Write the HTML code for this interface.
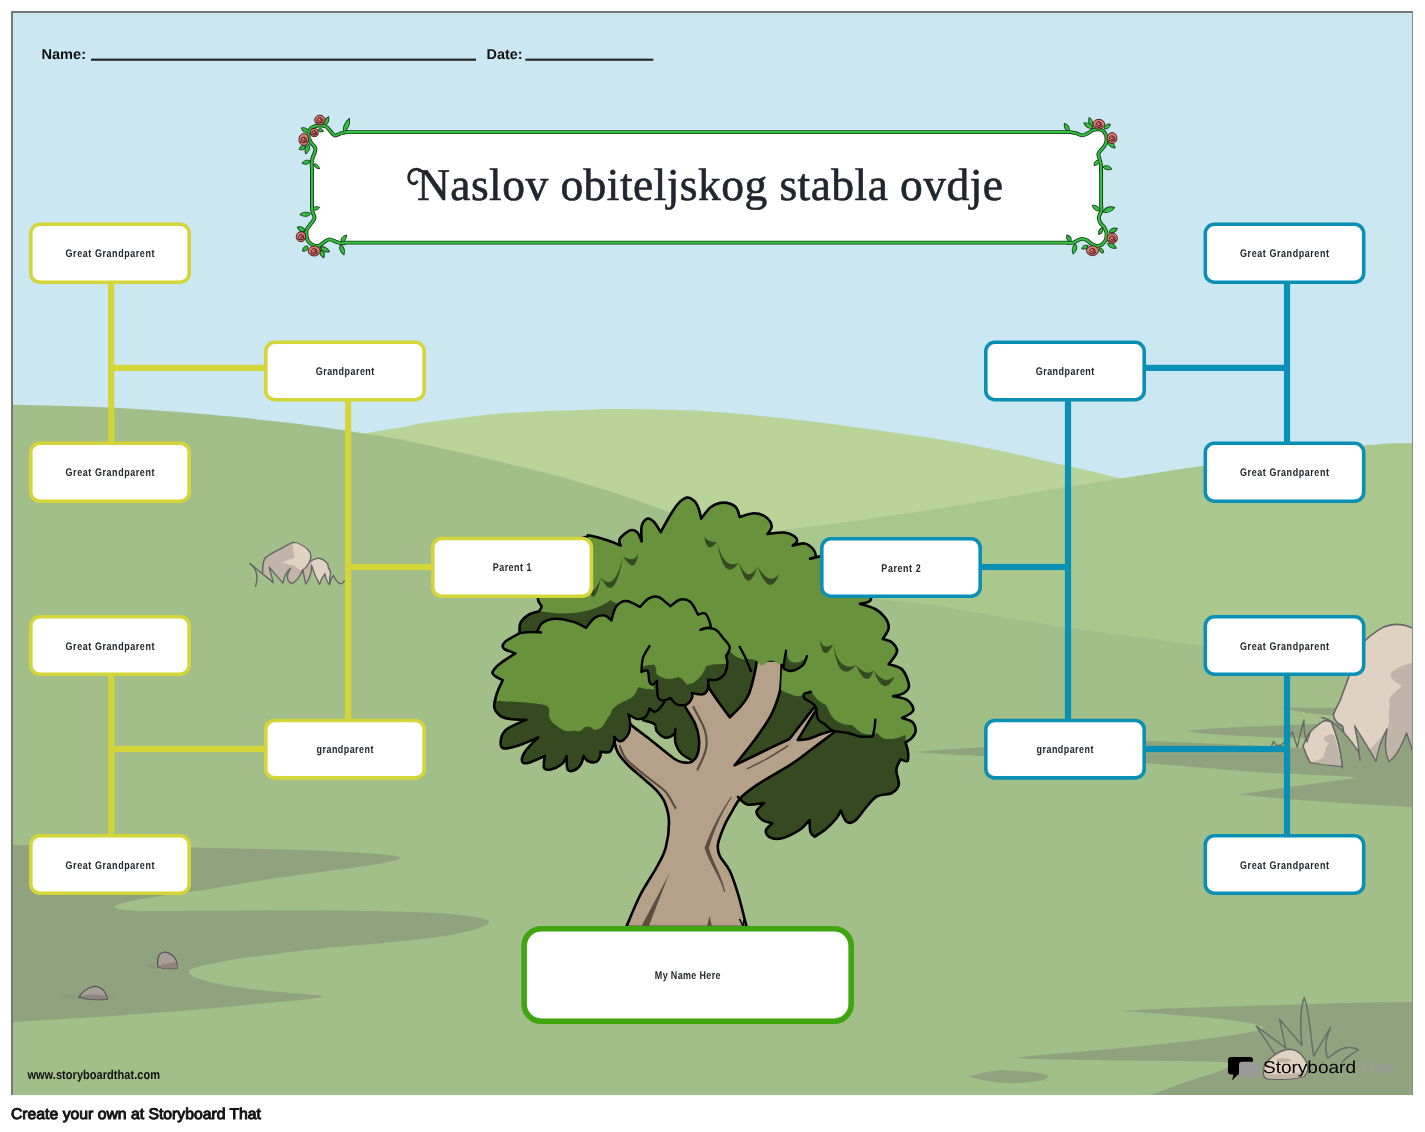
<!DOCTYPE html>
<html><head><meta charset="utf-8"><title>Family Tree</title>
<style>
html,body{margin:0;padding:0;background:#fff;}
body{width:1425px;height:1132px;overflow:hidden;font-family:"Liberation Sans",sans-serif;}
svg{display:block;position:absolute;left:0;top:0;}
text{font-family:"Liberation Sans",sans-serif;text-rendering:geometricPrecision;}
.lbl{font-weight:bold;font-size:11.2px;fill:#23252e;}
.ser{font-family:"Liberation Serif",serif;}
</style></head><body>
<svg width="1425" height="1132" viewBox="0 0 1425 1132" style="will-change:transform;opacity:0.9999">
<defs><clipPath id="fr"><rect x="11" y="11" width="1401.5" height="1084"/></clipPath></defs><g clip-path="url(#fr)">
<rect x="11" y="11" width="1402" height="1084" fill="#cbe7f2"/>
<path d="M340 440C344 438.9 352 436.1 364 433.7C376 431.3 402.7 427.2 412 425.5C421.3 423.8 405.2 425.6 420 423.6C434.8 421.6 473.8 415.9 501 413.6C528.2 411.3 562.7 410.8 583 410C603.3 409.2 602.7 408.9 623 409.1C643.3 409.3 677.8 409.6 705 411.2C732.2 412.8 758.8 415.5 786 418.5C813.2 421.5 837.8 424.8 868 429C898.2 433.2 934 437.9 967 444C1000 450.1 1040.4 459.9 1066 465.6C1091.6 471.4 1108.4 475.4 1120.7 478.5C1133 481.6 1136.8 483.1 1140 484 L1140 640 L340 640Z" fill="#b9d398"/>
<path d="M1413 443.4C1409.2 443.4 1396.7 443.2 1390 443.4C1383.3 443.6 1388 443.4 1373 444.8C1358 446.2 1328 448.5 1300 452C1272 455.5 1234.7 461.2 1204.8 465.6C1174.9 470 1143.8 474.9 1120.7 478.5C1097.6 482.1 1091.6 482.8 1066 487C1040.4 491.2 1000 498.7 967 504C934 509.3 900.8 514.4 868 519C835.2 523.6 798 528 770 531.5C742 535 711.7 538.6 700 540 L700 700 L1413 700Z" fill="#aac88d"/>
<path d="M11 404.6C11.3 404.6 -3.3 404.2 13 404.7C29.3 405.2 76.8 405.8 109 407.4C141.2 409 175 411.5 206 414.2C237 416.9 268.9 420.4 295 423.6C321.1 426.8 341.7 430 362.5 433.3C383.3 436.6 391.4 437.5 420 443.6C448.6 449.7 502.8 462.2 534 470C565.2 477.8 584.5 483.5 607 490.5C629.5 497.5 650.2 505.1 669 512C687.8 518.9 701.5 524 720 532C738.5 540 761.7 550.8 780 560C798.3 569.2 818.3 581.3 830 587C841.7 592.7 843.3 592.1 850 594C856.7 595.9 856.4 596.7 870 598.5C883.6 600.3 899.4 600.2 931.6 605C963.8 609.8 1019.1 620.4 1063 627C1106.8 633.6 1155.2 639.4 1194.7 644.6C1234.2 649.8 1263.6 653.4 1300 658C1336.4 662.6 1394.2 669.7 1413 672 L1413 1095 L11 1095Z" fill="#a2be89"/>
<path d="M12 845 C100 846 250 848 328 851 C370 853 400 855 400 858 C400 861 370 866 328 871 C280 877 240 884 219 887.5 C170 895 125 900 115 906 C112 909 125 911 146 911 C220 911 300 910 328 910.5 C380 911 420 912 438 913 C470 915 490 919 489 922.5 C488 927 465 933 438 937 C400 942 360 945 328 947.7 C280 953 240 958 219 962.3 C198 966 188 969 189 972 C190 977 205 981 219 984 C240 988 260 990 274 991.5 C300 994 323 995 323 996.5 C323 998 290 1001 255 1004 C220 1008 180 1011 146 1013.4 C100 1017 50 1020 12 1022Z" fill="#90a37e"/>
<path d="M1413 722 C1380 722 1340 723 1306 724.5 C1260 726 1200 728 1189 731 C1195 734 1250 737 1300 738 C1315 739 1335 741 1335 744 C1330 748 1310 748.5 1300 748 C1280 747 1220 743.5 1147 741 C1080 742 960 748 915 752 C960 756 1080 760 1144 763 C1200 767 1237 771 1270 773 C1310 775 1350 776 1357 777.5 C1340 781 1290 786 1239 794.5 C1290 800 1350 804 1413 807Z" fill="#90a37e"/>
<path d="M1413 1002 C1380 1002 1340 1003 1314 1004 C1250 1006 1160 1008 1122 1011 C1150 1013 1190 1016 1212 1018 C1235 1020 1264 1025 1264 1028 C1262 1031 1235 1035 1212 1038 C1170 1044 1110 1049 1076 1052 C1050 1054 1025 1056 1016 1058 C1040 1060 1080 1060 1110 1060.4 C1150 1061 1200 1061 1222 1062 C1240 1064 1225 1070 1195 1079 C1180 1084 1165 1089 1151 1095 L1413 1095Z" fill="#90a37e"/>
<path d="M969 1076.7 C980 1073 992 1071 999.6 1070 C1015 1071 1040 1072 1047 1075 C1052 1079 1040 1082 1020 1083 C1000 1084 985 1081 969 1076.7Z" fill="#90a37e"/>
<path d="M302.7 570 C304 567 305.5 565 307.4 563.7 C310 561 313 559.5 315.8 558.6 C318 558 320 558.3 321.7 559 C324 560 326 561.5 327.6 563.7 C328.2 565 328.3 566.5 328.4 567.9 C329.5 569 330.2 570.5 330.5 572.1 C330.6 574 330.3 576 329.7 578 L330 588 L300 588Z" fill="#dfd2c2" stroke="#666" stroke-width="1.5" stroke-linejoin="round"/>
<path d="M302.7 570 C304 567 305.5 565 307.4 563.7 C309 562.5 310.5 561.5 311.6 561 L313 570 L316 588 L300 588Z" fill="#c0b5a8"/>
<path d="M262.7 571 C262.5 568 262.7 565.5 263.2 563.7 C263.7 561 264.3 559.2 265.3 557.8 C269 555 273.5 552.5 277.9 550.2 C283 547.5 288 544.5 292.2 542.6 C294.5 542 297 542.8 299 543.9 C302 545.3 305 547.3 307.4 549.4 C308.8 550.7 309.8 552 310.3 553.6 C310.8 555.2 311 557 310.7 558.6 C310 561 308.8 563.5 307.4 565.4 C306 567.3 304.3 568.8 302.7 570 L304 588 L262 588Z" fill="#c0b5a8" stroke="#666" stroke-width="1.5" stroke-linejoin="round"/>
<path d="M293 544 C295 543 297 543.2 299 544.3 C302 545.7 305 547.5 307 549.8 C308.5 551 309.3 552.5 309.7 554 C310 555.5 310 557 309.8 558.5 C309 561 308 563.3 306.7 565 C305.5 566.8 304 568.2 302.5 569.3 C301 569.8 300 569.8 299 569.6 C297.5 568 296 566.5 294.7 565.4 C290 565 286 564 282.1 562.8 C284 561.5 286 560.5 288 560 C290.5 559.2 293 558.3 294.7 557 C294 556 293.7 554.8 293.5 553.6 C293 550.5 293 547 293 544Z" fill="#dfd2c2"/>
<path d="M250.1 563.7 L273.3 582.6 L269.1 567.1 L282.9 583.1 C284 577 287 571 290.5 568.3 C286.5 574 286 581 291.4 583.5 C296 582.5 300 576 302.7 570 L305.7 583.9 C309.5 579 311.5 572 311.6 565.4 C313.5 572 316.5 579 319.6 584.3 C321 580 323 576 325.1 573.8 C325.5 578 327 582 329.7 584.7 C330.5 581 331.5 577.5 333.5 575.5 C335 579 338 583.5 341.1 583.9 C342.5 583.5 343.6 582.3 344.4 580.9 L346 592 L250 592Z" fill="#a2be89"/>
<path d="M250.1 563.7 L273.3 582.6 L269.1 567.1 L282.9 583.1 C284 577 287 571 290.5 568.3 C286.5 574 286 581 291.4 583.5 C296 582.5 300 576 302.7 570 L305.7 583.9 C309.5 579 311.5 572 311.6 565.4 C313.5 572 316.5 579 319.6 584.3 C321 580 323 576 325.1 573.8 C325.5 578 327 582 329.7 584.7 C330.5 581 331.5 577.5 333.5 575.5 C335 579 338 583.5 341.1 583.9 C342.5 583.5 343.6 582.3 344.4 580.9" fill="none" stroke="#666" stroke-width="1.4" stroke-linejoin="round" stroke-linecap="round"/>
<path d="M250.1 563.7 C256 568 258.5 576 255.6 586.4" fill="none" stroke="#666" stroke-width="1.4" stroke-linecap="round"/>
<path d="M1281 708 C1300 707.5 1320 707.5 1340 708 L1340 716 C1320 715 1300 712 1281 708Z" fill="#90a37e"/>
<path d="M1422 634 C1414 628 1404 624 1395.4 624.4 C1390 625 1386 626 1383 627.4 C1376 631 1370 636 1365 640.6 C1360 650 1354 664 1348.6 677.2 C1346 685 1343 692 1340.5 699.6 C1338 705 1335 710 1333.4 714.8 C1334 720 1338 724 1342.5 726 L1350 765 L1422 765Z" fill="#dfd2c2" stroke="#666" stroke-width="1.6" stroke-linejoin="round"/>
<path d="M1413 663 C1405 664 1395 668 1391 673 C1388 678 1396 682 1402 686 C1398 690 1390 695 1389 700 C1391 706 1388 712 1389 718 C1390 726 1385 734 1373 746 L1360 760 L1413 762Z" fill="#c0b5a8"/>
<path d="M1303 746.3 C1305 741 1307 736 1310 732 C1315 727 1320 723 1324.3 720.9 C1327 720.5 1329 721 1331.4 722 C1337 735 1341 752 1342.5 766.6 C1330 765 1320 764 1310 762.5 C1307 757 1305 752 1303 746.3Z" fill="#dfd2c2" stroke="#666" stroke-width="1.6" stroke-linejoin="round"/>
<path d="M1326 736 C1322 738 1325 742 1329 743 C1326 747 1324 752 1324 756 C1320 760 1314 762 1311 762 C1320 764 1332 765 1341.5 766 C1340 755 1337 744 1334 735 C1331 734 1328 735 1326 736Z" fill="#c0b5a8"/>
<path d="M1271.8 745.5 L1273.5 741.3 L1276.4 745.5 L1280.6 745.5 C1285 742 1289 737 1292.3 732.1 L1297.4 747.3 C1299 738 1302 727 1304 720 C1303.5 728 1305 737 1307 742 L1310 733" fill="none" stroke="#666" stroke-width="1.3" stroke-linejoin="round" stroke-linecap="round"/>
<path d="M1331.4 722 C1337 726 1345 733 1352 742 C1356 748 1360 755 1360 760 C1359 748 1357 736 1354.7 726 C1362 738 1370 750 1376 761.5 C1378 750 1382 738 1387 729 C1385 740 1384 752 1389 761.5 C1396 757 1402 745 1406.5 733 L1413 752 L1413 772 L1343 772 C1342 752 1337 735 1331.4 722Z" fill="#90a37e"/>
<path d="M1342.5 768 C1341 752 1337 735 1331.4 722 C1329 720 1326 718.5 1322 717.5 C1328 719 1333 722 1337 726 C1345 733 1352 742 1358 751 C1360 755 1360 758 1360 760 C1359 748 1357 736 1354.7 726 C1362 738 1370 750 1376 761.5 C1378 750 1382 738 1387 729 C1385 740 1384 752 1389 761.5 C1396 757 1402 745 1406.5 733 L1413 752" fill="none" stroke="#666" stroke-width="1.4" stroke-linejoin="round" stroke-linecap="round"/>
<path d="M1275.3 1054.5 L1256.3 1026 L1285.8 1048.2 L1279.5 1019.2 L1302.1 1045.5 C1300 1030 1300 1008 1304.2 997.6 C1309 1008 1311 1040 1313.7 1056 L1330.5 1027.6 C1326 1038 1324 1050 1327.9 1058.2 C1333 1054 1338 1050 1343.7 1048.2 C1349 1047 1355 1048 1358.4 1049.7 C1355 1052 1352 1054 1350 1055.5 C1346 1058 1343 1061 1341.6 1062.9" fill="none" stroke="#6a6f6a" stroke-width="1.5" stroke-linejoin="round" stroke-linecap="round"/>
<path d="M1263.7 1075.5 C1263 1071 1263.5 1068 1264.7 1065 C1267 1061 1271 1057.5 1275.3 1054.5 C1280 1051.5 1285 1049.5 1289 1049.2 C1292 1049.3 1295 1050 1297.4 1051.3 C1300 1053 1302 1055 1303.7 1057.6 C1306 1060.5 1307.5 1064 1307.9 1067.1 C1307.8 1071 1306 1074.5 1303.7 1076.6 C1297 1078.5 1290 1079.2 1282.6 1079.2 C1277 1079.3 1271 1079.2 1266.8 1078.7 C1265 1078 1264 1077 1263.7 1075.5Z" fill="#dfd2c2" stroke="#666" stroke-width="1.5"/>
<ellipse cx="1283.7" cy="1060.3" rx="7.4" ry="2.1" fill="#c0b5a8"/>
<path d="M1265 1073 C1275 1075 1292 1075 1306 1071 C1305.5 1074 1304.8 1075.5 1303.5 1076.3 C1297 1078.2 1290 1078.8 1282.6 1078.8 C1277 1078.9 1271 1078.8 1267 1078.3 C1265.5 1077.5 1264.8 1075.5 1265 1073Z" fill="#c0b5a8"/>
<ellipse cx="162" cy="966" rx="16" ry="3" fill="#8b9d7a"/>
<path d="M158 967 C157 961 158 956 160.5 953.5 C164 951 168 952 172 955 C176 958 177.5 963 177 968 C171 969 164 969 158 967Z" fill="#a69e97" stroke="#555" stroke-width="1.3"/>
<path d="M159 967 C163 962 170 964 176 962 L177 968 C171 969 164 969 159 967Z" fill="#8e857f"/>
<ellipse cx="88" cy="996.5" rx="28" ry="3.2" fill="#8b9d7a"/>
<path d="M79 997 C82 992 88 988 93 986.5 C97 986 101 987.5 104 991 C106 994 107 997 107.5 999 C98 1000 88 999.5 79 997Z" fill="#a69e97" stroke="#555" stroke-width="1.3"/>
<path d="M81 997 C88 993 98 995 106 996 L107 999 C98 1000 88 999.5 81 997Z" fill="#8e857f"/>
<path d="M701.2 518.6C702.8 516.7 707.2 509.7 711 507C714.8 504.3 719.6 502.6 723.7 502.6C727.8 502.6 732.8 504.4 735.5 506.8C738.2 509.2 739 515.3 739.7 517C742.1 516.4 749.6 513.2 754 513.2C758.4 513.2 762.8 514.8 765.8 517C768.8 519.2 771.4 523.4 771.7 526.2C772 529 768.2 532.7 767.5 534C770.3 533.8 779.8 532.1 784.3 532.5C788.8 532.9 792.3 534.8 794.4 536.3C796.5 537.8 797.3 539.8 797 541.4C796.7 543 793.4 544.9 792.7 545.6C794.7 545.2 801.1 542.9 804.5 543.5C807.9 544.1 811.2 546.8 813 549C814.8 551.2 816 554.9 815.5 556.5C815 558.1 810.9 558.3 810 558.7C814.2 558.2 827 553.3 835 556C843 558.7 852 567.9 858 575C864 582.1 870.7 593.8 871 598.6C871.3 603.4 861.8 602.9 860 603.7C862.5 604.6 871.1 606.6 875.3 609C879.5 611.4 883.2 614.8 885.4 618C887.6 621.2 889.1 624.5 888.7 628C888.3 631.5 883.8 637.2 882.8 639C884.3 639.6 889.6 640.4 892 642.5C894.4 644.6 897.5 648.1 897 651.7C896.5 655.3 890.1 662.2 888.7 664.3C891 665.2 898.8 666 902.2 669.5C905.6 673 908.7 681.4 909 685.3C909.3 689.2 906.7 691.2 904 693C901.3 694.8 894.8 695.7 893 696.2C895.4 696.8 903.9 697.6 907.3 700C910.7 702.4 914.1 707.5 913.2 710.5C912.4 713.5 904 716.8 902.2 718C903.9 718.7 910 719.9 912.3 722C914.5 724.1 915.7 728.1 915.7 730.7C915.7 733.3 914 735.5 912.3 737.5C910.6 739.5 906.7 741.7 905.6 742.5C906 744.1 907.7 748.9 908 752C908.3 755.1 908.5 759.8 907.3 761C906 762.2 901.6 759.7 900.5 759.4C899.8 761.1 896.6 765.3 896.3 769.5C896 773.7 899.5 780.7 898.8 784.6C898.1 788.5 895.6 791 892 793C888.4 795 881.2 794.1 877 796.4C872.8 798.6 870.5 802.4 866.8 806.5C863.1 810.6 858.4 818.3 855 820.8C851.6 823.3 849 823.4 846.6 821.7C844.2 820 841.7 812.5 840.7 810.7C840 812 839 815.2 836.5 818.3C834 821.3 829.6 825.9 826 829C822.4 832.1 816.5 835.5 814.6 836.8C813.9 836 811.2 834.6 810.4 831.8C809.6 829 809.7 822 809.6 820C807.9 821.7 804.3 826.9 799.5 830C794.7 833.1 786.1 837.4 781 838.5C775.9 839.6 771.5 838.2 769 836.8C766.5 835.4 765.4 832.2 766 830C766.6 827.8 771.4 824.5 772.5 823.4C770.8 822.8 765.1 822 762.4 820C759.7 818 756.2 814.4 756.5 811.6C756.8 808.8 762.8 804.4 764 803C761.2 803.2 751.6 805.5 747.3 804.5C743 803.5 739.5 798.2 738 797C735 792.5 723 774.5 720 770C716.2 767.8 700.8 759.2 697 757C696.1 757.5 692.4 759.5 691.5 760C689.9 759 684.3 756.7 681.6 753.8C678.9 750.9 676.4 746.7 675.4 742.6C674.4 738.5 675.4 731.3 675.4 729C675.2 729.8 675.9 732.5 674.2 734C672.6 735.5 668.4 738.1 665.5 737.7C662.6 737.3 658.8 733.8 656.9 731.5C655 729.2 656.7 725.9 654.4 724C652.1 722.1 645.1 721 643.3 720.4C642.2 720.2 639.5 720 637 719C634.5 718 629.8 715 628.4 714.2C628.7 715.5 629.9 718.9 630 722C630.1 725.1 630.1 729.7 629 732.7C627.9 735.7 625.2 738.6 623.5 740C621.8 741.4 620.5 741.4 619 741C617.5 740.6 615.4 738.1 614.7 737.5C614.6 738.4 614.7 740.6 613.9 743C613.1 745.4 612 750.3 609.7 751.8C607.5 753.3 602 751.8 600.4 751.8C600.4 752.5 601.1 754.3 600.4 756C599.7 757.7 598.3 761.1 596.2 761.9C594.1 762.7 589.9 762 587.8 761C585.7 760 584.3 756.8 583.6 756C583.2 757.3 582.5 761.6 581 764C579.5 766.4 576.5 769.4 574.3 770.3C572.1 771.2 568.9 771.9 567.6 769.5C566.3 767.1 566.9 758.2 566.7 756C565.9 757.3 564.7 761.8 562 764C559.3 766.2 553.7 768.9 550.7 769.5C547.7 770.1 545 770 544 767.8C543 765.5 544.7 758 544.8 756C542 757.2 531.8 762.2 528 763C524.2 763.8 522.4 763 522 761C521.6 759 522.8 754.9 525.5 751C528.2 747.1 535.9 739.8 538 737.5C535 738.8 525.7 743.2 520 745C514.3 746.8 506.8 749.4 503.6 748.4C500.4 747.4 500.4 742.2 501 739C501.6 735.8 502.8 732.2 507 729C511.2 725.8 523.1 721.3 526.3 719.8C523.6 719.7 514.4 719.7 510 719C505.6 718.3 502.6 717.6 500 715.6C497.4 713.6 494.8 710.9 494.3 707.2C493.8 703.6 495.4 698.2 496.8 693.7C498.2 689.2 501.7 682.5 502.7 680.2C501.4 679.5 496.7 677.4 495 676C493.3 674.6 491.7 674 492.6 671.9C493.5 669.8 496.4 666.6 500.2 663.5C504 660.4 512.9 655.1 515.4 653.4C513.4 652.5 505.3 650.3 503.6 648.3C501.9 646.3 502.6 644.1 505.3 641.6C508 639.1 517.2 634.6 519.6 633.2C519.7 631.5 518.9 626.1 520.4 623C521.9 619.9 525.7 616.6 528.8 614.6C531.9 612.6 537.3 611.8 539 611.3C539.4 610.4 541.7 608.5 541.5 606.2C541.3 604 537.4 603.8 538 597.8C538.6 591.8 540.5 578.8 545 570C549.5 561.2 558.2 550.5 565 545C571.8 539.5 581.9 538.6 586 537C590.1 535.4 585.8 534.9 589.5 535.5C593.2 536.1 602.8 538.8 608 540.5C613.2 542.2 618.5 544.8 620.6 545.6C620.5 544.5 618.2 541.3 619.8 538.8C621.3 536.3 627 531.5 629.9 530.4C632.8 529.3 635 530.2 637 532C639 533.8 640.9 539.8 641.7 541.4C641.7 538.9 640.7 530 641.7 526.2C642.7 522.4 645.6 519.3 647.6 518.6C649.6 517.9 651.8 519.8 654 522C656.2 524.2 659.6 530.4 660.7 532.1C662.1 529.6 666.4 521.6 669.2 517C672 512.4 674.7 507.5 677.6 504.3C680.5 501.1 684 498.2 686.8 497.6C689.6 497.1 692.4 499.2 694.4 501C696.4 502.8 697.5 505.6 698.6 508.5C699.7 511.4 700.8 516.9 701.2 518.6Z" fill="#354a20"/>
<path d="M626.2 927C628.6 921.6 635.3 904.7 640.5 894.5C645.7 884.3 653.2 873.9 657.4 866C661.6 858.1 663.9 854.7 665.8 847.4C667.7 840.1 669.1 829.4 669 822C668.9 814.6 667 808.2 665 803C663 797.8 660.3 794.8 657 791C653.7 787.2 649.5 784 645 780C640.5 776 634.2 771 630 767C625.8 763 622.3 759.2 620 756C617.7 752.8 617 751.2 616 748C615 744.8 614.2 741 614.2 737C614.2 733 615.7 726.2 616 724C618 722.7 626 717.3 628 716C628.4 717.3 626.7 720.2 630.3 724C633.9 727.8 642.2 733.2 649.5 739C656.8 744.8 668.5 754.8 674.2 758.7C680 762.6 681.1 761.9 684 762.4C686.9 762.9 689.2 763.2 691.5 761.8C693.8 760.4 696.5 757.6 697.7 753.8C699 750 699.4 744 699 739C698.6 734 697.3 729 695.2 724C693.1 719 688.2 712.1 686.6 709.2C685 706.3 685.5 707.2 685.3 706.8C685.4 705 685.9 697.8 686 696C688.3 694.3 697.7 687.7 700 686C701.3 685.8 706.7 685.2 708 685C708.3 685.8 708 686.3 710 689.5C712 692.7 716.7 699.4 720 704C723.3 708.6 728.2 715.1 729.8 717.3C731.7 715.4 737.8 709.9 741 706C744.2 702.1 746.7 699.1 749 693.7C751.3 688.3 753.3 679 754.6 673.4C755.9 667.8 756.6 662.2 757 660C761.1 660.2 777.7 660.8 781.8 661C781.7 664.2 781.4 674.5 781 680C780.6 685.5 781 687.8 779.3 693.7C777.6 699.6 775 707.8 770.8 715.6C766.6 723.5 760 732.5 754 740.8C748 749.1 737.8 761.2 734.6 765.3C739.2 763.1 752.9 756.4 762 752C771.1 747.6 784.8 741.2 789.4 739C791.5 736.3 797.9 728.2 802 723C806.1 717.8 811.4 710.2 813.8 708C816.2 705.8 816 709.2 816.5 709.5C815.1 711.8 811.1 717.9 808 723C804.9 728.1 799.5 737.2 797.8 740C799.5 739.8 804.1 740 808 739C811.9 738 817.2 735.4 821.4 734C825.6 732.6 830.9 731 833 730.7C835.1 730.5 833.8 732.2 834 732.5C830.3 735.2 819.2 743.7 812 749C804.8 754.3 800.1 758.5 791 764.4C781.9 770.3 765.8 779 757.4 784.6C749 790.2 744.7 793.5 740.5 798C736.3 802.5 734.6 807.1 732 811.6C729.4 816.1 727 819.6 724.7 825C722.4 830.4 718.8 838.9 718 844C717.2 849.1 717.7 851.3 719.7 855.8C721.7 860.3 726.7 864.5 729.8 871C732.9 877.5 735.4 885.2 738.2 894.5C741 903.8 745.2 921.6 746.6 927C726.5 927 646.3 927 626.2 927Z" fill="#b5a08a" stroke="#000" stroke-width="2.6" stroke-linejoin="round"/>
<path d="M619.8 746C620.9 748.2 621.7 754.1 626.5 759.4C631.3 764.7 641.9 772.7 648.4 778C654.9 783.3 661.1 786.9 665.3 791.4C669.5 795.9 672 802 673.7 804.8C675.4 807.6 675.1 807.5 675.4 808" fill="none" stroke="#5c4d40" stroke-width="2.2" stroke-linecap="round" stroke-linejoin="round" />
<path d="M693.4 707C695.3 711 702.9 723.7 705 730.7C707.1 737.7 707.2 742.5 706 749C704.8 755.5 699 766.1 697.6 769.5" fill="none" stroke="#5c4d40" stroke-width="2.2" stroke-linecap="round" stroke-linejoin="round" />
<path d="M747.3 768.6C750.4 767.1 759.1 763.2 765.8 759.4C772.5 755.6 784.1 748.2 787.7 746" fill="none" stroke="#5c4d40" stroke-width="1.6" stroke-linecap="round" stroke-linejoin="round" />
<path d="M731.5 797 C722 810 712 828 705 848 C709 862 720 876 724.7 892 C722 876 712 862 708.5 848 C714 828 723 810 731.5 797Z" fill="#5c4d40" stroke="#5c4d40" stroke-width="0.8"/>
<path d="M669.5 873 C660 892 650 910 641 927 L648.5 927 C655 910 662 892 669.5 873Z" fill="#5c4d40"/>
<path d="M709.6 916 L706.8 927 L712 927Z" fill="#5c4d40"/>
<path d="M739.5 919 L743 926 L744 920" fill="none" stroke="#000" stroke-width="1.5"/>
<path d="M701.2 518.6C702.8 516.7 707.2 509.7 711 507C714.8 504.3 719.6 502.6 723.7 502.6C727.8 502.6 732.8 504.4 735.5 506.8C738.2 509.2 739 515.3 739.7 517C742.1 516.4 749.6 513.2 754 513.2C758.4 513.2 762.8 514.8 765.8 517C768.8 519.2 771.4 523.4 771.7 526.2C772 529 768.2 532.7 767.5 534C770.3 533.8 779.8 532.1 784.3 532.5C788.8 532.9 792.3 534.8 794.4 536.3C796.5 537.8 797.3 539.8 797 541.4C796.7 543 793.4 544.9 792.7 545.6C794.7 545.2 801.1 542.9 804.5 543.5C807.9 544.1 811.2 546.8 813 549C814.8 551.2 816 554.9 815.5 556.5C815 558.1 810.9 558.3 810 558.7C814.2 558.2 827 553.3 835 556C843 558.7 852 567.9 858 575C864 582.1 870.7 593.8 871 598.6C871.3 603.4 861.8 602.9 860 603.7C862.5 604.6 871.1 606.6 875.3 609C879.5 611.4 883.2 614.8 885.4 618C887.6 621.2 889.1 624.5 888.7 628C888.3 631.5 883.8 637.2 882.8 639C884.3 639.6 889.6 640.4 892 642.5C894.4 644.6 897.5 648.1 897 651.7C896.5 655.3 890.1 662.2 888.7 664.3C891 665.2 898.8 666 902.2 669.5C905.6 673 908.7 681.4 909 685.3C909.3 689.2 906.7 691.2 904 693C901.3 694.8 894.8 695.7 893 696.2C895.4 696.8 903.9 697.6 907.3 700C910.7 702.4 914.1 707.5 913.2 710.5C912.4 713.5 904 716.8 902.2 718C903.9 718.7 910 719.9 912.3 722C914.5 724.1 915.7 728.1 915.7 730.7C915.7 733.3 914 735.5 912.3 737.5C910.6 739.5 906.7 741.7 905.6 742.5C905.6 741.2 905.6 736.2 905.6 735C903.8 735.6 898.6 737.9 895 738.5C891.4 739.1 887 739.4 884 738.5C881 737.6 878.2 733.9 877 733C876.2 733.2 874.5 734.5 872 734.5C869.5 734.5 865.3 734.6 862 733C858.7 731.4 853.7 726.3 852 725C850.5 724.8 846.2 725.2 843 724C839.8 722.8 835.8 721.2 833 718C830.2 714.8 827.2 707.2 826 705C824.7 704.2 820.7 702.5 818 700C815.3 697.5 811.3 691.7 810 690C808.3 691 803.3 695.3 800 696C796.7 696.7 793.2 695 790 694C786.8 693 782.5 690.7 781 690C781.2 686.3 781.8 671.7 782 668C783.5 668.3 787.7 670.7 791 670C794.3 669.3 799.3 666.3 802 664C804.7 661.7 806.2 657.3 807 656C805.8 657 802.8 661.2 800 662C797.2 662.8 792.3 662.8 790 661C787.7 659.2 786.7 652.7 786 651C785.7 652.8 784.8 659.8 784 662C783.2 664.2 781.5 663.7 781 664C780.7 664 779.6 664.2 779.3 664.3C778.2 663.8 775 661.5 773 661C771 660.5 768.4 661 767.5 661C766.9 661.7 765.1 664.3 764 665C762.9 665.7 761.2 665.2 760.7 665.2C759.8 664.3 757 661 755 660C753 659 750 659.2 749 659C748.3 659.1 746.4 659.6 745 659.5C743.6 659.4 741.2 658.6 740.5 658.4C739.6 658 736.7 657.1 735 656C733.3 654.9 731.2 652.4 730.4 651.7C725.3 649.8 705.1 642 700 640C685.2 633.5 626.2 607.5 611.4 601C609.2 602.4 604.2 607.2 598 609.5C591.8 611.8 583.8 614.3 574 614.6C564.2 614.9 544.8 611.8 539 611.3C539.4 610.4 541.7 608.5 541.5 606.2C541.3 604 537.4 603.8 538 597.8C538.6 591.8 540.5 578.8 545 570C549.5 561.2 558.2 550.5 565 545C571.8 539.5 581.9 538.6 586 537C590.1 535.4 585.8 534.9 589.5 535.5C593.2 536.1 602.8 538.8 608 540.5C613.2 542.2 618.5 544.8 620.6 545.6C620.5 544.5 618.2 541.3 619.8 538.8C621.3 536.3 627 531.5 629.9 530.4C632.8 529.3 635 530.2 637 532C639 533.8 640.9 539.8 641.7 541.4C641.7 538.9 640.7 530 641.7 526.2C642.7 522.4 645.6 519.3 647.6 518.6C649.6 517.9 651.8 519.8 654 522C656.2 524.2 659.6 530.4 660.7 532.1C662.1 529.6 666.4 521.6 669.2 517C672 512.4 674.7 507.5 677.6 504.3C680.5 501.1 684 498.2 686.8 497.6C689.6 497.1 692.4 499.2 694.4 501C696.4 502.8 697.5 505.6 698.6 508.5C699.7 511.4 700.8 516.9 701.2 518.6Z" fill="#68933c"/>
<path d="M704.3 536.3Q706.4 554.8 717 542.2Q706.4 541.8 704.3 536.3ZM717 542.2Q724.5 583.7 738.8 562.4Q724.5 570.7 717 542.2ZM738.8 562.4Q748.1 596.7 757.4 566.6Q748.1 583.7 738.8 562.4ZM757.4 566.6Q770.1 599.6 779.3 573.4Q770.1 586.6 757.4 566.6Z" fill="#354a20"/>
<path d="M819.7 639Q823 664.5 833.2 644.1Q823 651.5 819.7 639ZM833.2 644.1Q838.7 685.3 855.9 665.2Q838.7 672.3 833.2 644.1ZM855.9 665.2Q867.2 690.3 873.6 670.1Q867.2 677.3 855.9 665.2ZM873.6 670.1Q883.3 698.5 894.6 676.8Q883.3 685.5 873.6 670.1Z" fill="#354a20"/>
<path d="M638.3 552.3Q635.8 576.6 623.2 556.5Q635.8 563.6 638.3 552.3ZM623.2 556.5Q613.8 606 601.3 577.6Q613.8 593 623.2 556.5ZM601.3 577.6Q593.6 608.5 589.5 589.4Q593.6 595.5 601.3 577.6Z" fill="#354a20"/>
<path d="M739.7 646.8C740.6 648.5 743.5 654 745 657C746.5 660 747.4 662.4 748.4 664.7C749.4 667 750.4 670 750.8 671" fill="none" stroke="#000" stroke-width="2.4" stroke-linecap="round" stroke-linejoin="round"/>
<path d="M786 650.8C785.8 652.3 784.9 657 784.5 660C784.1 663 783.7 667.1 783.5 668.5C784.8 668.9 787.8 671.6 791 671C794.2 670.4 800.1 667.5 802.8 665C805.5 662.5 806.3 657.5 807 656" fill="none" stroke="#000" stroke-width="2.4" stroke-linecap="round" stroke-linejoin="round"/>
<path d="M811 692C809.8 692.3 805.1 692.9 804 694C802.9 695.1 804.4 697.9 804.5 698.7C806.2 699.8 812.4 702.1 814.6 705.5C816.9 708.9 816.3 715.9 818 719C819.7 722.1 823.6 723.2 824.7 724C826.1 725.1 829.1 729.2 833 730.7C836.9 732.2 843.5 732 848 733C852.5 734 855.9 735.9 860 736.5C864.1 737.1 870.6 736.6 872.7 736.6C873 735.2 874.1 730.8 874.5 728C874.9 725.2 875.2 721.2 875.3 719.8" fill="none" stroke="#000" stroke-width="2.4" stroke-linecap="round" stroke-linejoin="round"/>
<path d="M539 611.3 C555 615 575 614 590 610 C600 607 607 603 611.4 599.5 L611.4 606 L612 621 C606 615 596 616 586 628 C577 622 560 617 548 620 C542 622 539 627 537.3 631.5 L519.6 633.2 C520 622 528 613 539 611.3Z" fill="#354a20"/>
<path d="M610 730C610.7 731.2 613.5 735.8 614.2 737C615 737.7 617.5 740.5 619 741C620.5 741.5 621.8 741.4 623.5 740C625.2 738.6 627.9 735.7 629 732.7C630.1 729.7 630.1 725.1 630 722C629.9 718.9 628.7 715.5 628.4 714.2C629.8 715 634.1 718.6 637 719C639.9 719.4 643.6 718.4 645.7 716.7C647.8 715 648.9 710 649.5 708.6C650.5 709.1 653.4 712.4 655.6 711.7C657.9 711 661.5 706.1 663 704.3C664.5 702.4 664.1 701.2 664.3 700.6C664.2 698.8 664 691.8 664 690C660 690 644 690 640 690C635 696.7 615 723.3 610 730Z" fill="#354a20"/>
<path d="M649.5 646C648.4 648 644.4 653.7 643 658C641.6 662.3 641.7 669.7 641.4 672C642.4 671.8 646.2 669.3 647.6 671C649 672.7 648.6 679.8 649.5 682C650.4 684.2 651.8 684.7 653 684.5C654.2 684.3 656.2 681.4 656.9 680.8C657.1 683.5 657 693.7 658 697C659 700.3 660.9 700.4 663 700.6C665.1 700.8 669.2 698.4 670.5 698C671.5 699 674 703.2 676.7 704.3C679.4 705.3 684.1 705.3 686.6 704.3C689.1 703.2 691.1 699.9 692 698C692.9 696.1 692 693.8 692 693C693.8 693.2 700 695 702.6 694.4C705.2 693.8 706.7 692 707.6 689.5C708.5 687 708.1 681.2 708.2 679.6C709.8 679.6 714.7 680.6 717.5 679.6C720.3 678.6 723.2 676.1 724.9 673.4C726.5 670.7 727.2 666.4 727.4 663.5C727.6 660.6 726.2 657.2 726 656C726.6 654.6 730.2 650.3 729.8 647.4C729.4 644.5 725.9 641.4 723.6 638.5C721.3 635.6 719.7 631.2 715.8 629.8C711.9 628.4 702.6 630 700 630C691.6 632.7 657.9 643.3 649.5 646Z" fill="#354a20"/>
<path d="M537.3 631.5C538.1 630.1 539.2 625.1 542.3 623C545.4 620.9 550.5 618.9 555.8 618.8C561.1 618.7 569.3 620.7 574.3 622.2C579.3 623.7 584 627 586 628C587.4 626.3 591.4 620.1 594.5 618C597.6 615.9 601.8 615.1 604.6 615.5C607.4 615.9 610.3 619.7 611.4 620.5C612.2 618.1 613.9 609.5 616.4 606.2C618.9 603 622.6 600.9 626.5 601C630.4 601.1 637.8 606 640 607C641.4 605.6 645.3 600.3 648.4 598.6C651.5 596.9 654.9 595.7 658.5 597C662.1 598.3 668.3 604.7 670.3 606.2C672 605.1 677 600.2 680.4 599.5C683.8 598.8 687.6 599.5 690.5 602C693.4 604.5 696.8 612.5 698 614.6C699.3 614.5 703.6 611.8 705.7 613.8C707.8 615.8 709.7 623.8 710.7 626.4C711.8 629 711.8 629 712 629.5C712.6 629.5 713.9 628.3 715.8 629.8C717.7 631.3 721.3 635.6 723.6 638.5C725.9 641.4 729.4 644.5 729.8 647.4C730.2 650.3 726.6 654.6 726 656C726.2 657.2 727.2 662.2 727.4 663.5C726.8 663.6 725.8 663.8 723.6 664C721.4 664.2 716.9 664.2 714 664.5C711.1 664.8 707.6 665.8 706.3 666C705.8 667.2 704.2 671 703 673C701.8 675 700.6 676.6 698.9 678.3C697.2 680 695 682 693 683C691 684 687.7 684.2 686.6 684.5C685.8 683.6 683.5 680.2 682 679C680.5 677.8 678.6 677.3 677.9 677C676.8 677.3 673.3 678.8 671 679C668.7 679.2 665.4 678.4 664.3 678.3C663.4 677.9 660.3 676.8 659 676C657.7 675.2 656.8 673.8 656.3 673.4C656.2 672.5 656.3 669.5 656 668C655.7 666.5 654.7 665.2 654.4 664.7C653.5 664.8 650.9 664.7 649 665C647.1 665.3 644.2 666.3 643.3 666.6C643 667.5 641.7 671.1 641.4 672C642.4 671.8 646.2 669.3 647.6 671C649 672.7 648.6 679.8 649.5 682C650.4 684.2 652.2 683.2 653 684.5C653.8 685.8 654.2 688.7 654.4 689.5C653 689.4 648.7 689.4 646 689C643.3 688.6 639.6 687.3 638.3 687C637.8 688.2 636.2 692.2 635 694C633.8 695.8 631.7 697.3 631 698C630 698.5 627.1 700 625 701C622.9 702 619.6 703.8 618.5 704.3C617.9 704.8 616 706.2 615 707C614 707.8 612.8 708.8 612.4 709.2C612 710.2 610.7 713.6 610 715C609.3 716.4 608.3 716.9 608 717.3C607 718.9 604.2 724.9 602 727C599.8 729.1 595.8 729.5 594.5 730C593.8 729.5 591.6 727.5 590 727C588.4 726.5 585.8 727 585 727C584.2 727.7 581.8 730.4 580 731C578.2 731.6 575.2 730.8 574.3 730.7C572.9 730.8 568.5 731.5 566 731C563.5 730.5 560.2 728 559 727.4C557.8 726.5 553.7 724 552 722C550.3 720 549.5 716.7 549 715.6C548.7 714 550.6 708.4 547.4 706.3C544.2 704.2 538.4 703.9 530 703C521.6 702.1 502.5 701.3 497 701C497 699.8 495.9 697.2 496.8 693.7C497.8 690.2 501.7 682.5 502.7 680.2C501.4 679.5 496.7 677.4 495 676C493.3 674.6 491.7 674 492.6 671.9C493.5 669.8 496.4 666.6 500.2 663.5C504 660.4 512.9 655.1 515.4 653.4C513.4 652.5 505.3 650.3 503.6 648.3C501.9 646.3 502.6 644.1 505.3 641.6C508 639.1 517.2 634.6 519.6 633.2C522.5 632.9 534.3 631.8 537.3 631.5Z" fill="#68933c"/>
<path d="M519.6 633.2C521.3 633 526.4 632.1 530 632C533.6 631.9 539.2 632.4 541 632.5C540.4 632.3 537.9 631.7 537.3 631.5C538.1 630.1 539.2 625.1 542.3 623C545.4 620.9 550.5 618.9 555.8 618.8C561.1 618.7 569.3 620.7 574.3 622.2C579.3 623.7 584 627 586 628C587.4 626.3 591.4 620.1 594.5 618C597.6 615.9 601.8 615.1 604.6 615.5C607.4 615.9 610.3 619.7 611.4 620.5C612.2 618.1 613.9 609.5 616.4 606.2C618.9 603 622.6 600.9 626.5 601C630.4 601.1 637.8 606 640 607C641.4 605.6 645.3 600.3 648.4 598.6C651.5 596.9 654.9 595.7 658.5 597C662.1 598.3 668.3 604.7 670.3 606.2C672 605.1 677 600.2 680.4 599.5C683.8 598.8 687.6 599.5 690.5 602C693.4 604.5 696.8 612.5 698 614.6C699.3 614.5 703.6 611.8 705.7 613.8C707.8 615.8 710.7 624 710.7 626.4C710.8 628.8 707.7 627.4 706 628C704.3 628.6 701.5 629.5 700.6 629.8" fill="none" stroke="#000" stroke-width="2.4" stroke-linecap="round" stroke-linejoin="round"/>
<path d="M700.6 629.8C701.8 629.5 705.5 628 708 628C710.5 628 713.2 628 715.8 629.8C718.4 631.5 721.3 635.6 723.6 638.5C725.9 641.4 729.4 644.5 729.8 647.4C730.2 650.3 726.6 654.6 726 656C726.2 657.2 727.6 660.6 727.4 663.5C727.2 666.4 726.5 670.7 724.9 673.4C723.2 676.1 720.3 678.6 717.5 679.6C714.7 680.6 709.8 679.6 708.2 679.6C708.1 681.2 708.5 687 707.6 689.5C706.7 692 705.2 693.8 702.6 694.4C700 695 693.8 693.2 692 693C692 693.8 692.9 696.1 692 698C691.1 699.9 689.1 703.2 686.6 704.3C684.1 705.3 679.4 705.3 676.7 704.3C674 703.2 671.5 699 670.5 698C669.2 698.4 665.1 700.8 663 700.6C660.9 700.4 659 700.3 658 697C657 693.7 657.1 683.5 656.9 680.8C656.2 681.4 654.2 684.3 653 684.5C651.8 684.7 650.4 684.2 649.5 682C648.6 679.8 649 672.7 647.6 671C646.2 669.3 642.4 671.8 641.4 672C641.7 669.7 641.6 662.3 643 658C644.4 653.7 648.4 648 649.5 646" fill="none" stroke="#000" stroke-width="2.4" stroke-linecap="round" stroke-linejoin="round"/>
<path d="M614.2 737C615 737.7 617.5 740.5 619 741C620.5 741.5 621.8 741.4 623.5 740C625.2 738.6 627.9 735.7 629 732.7C630.1 729.7 630.1 725.1 630 722C629.9 718.9 628.7 715.5 628.4 714.2C629.8 715 634.1 718.6 637 719C639.9 719.4 643.6 718.4 645.7 716.7C647.8 715 648.9 710 649.5 708.6C650.5 709.1 653.4 712.4 655.6 711.7C657.9 711 661.5 706.1 663 704.3C664.5 702.4 664.1 701.2 664.3 700.6" fill="none" stroke="#000" stroke-width="2.4" stroke-linecap="round" stroke-linejoin="round"/>
<path d="M643.3 720.4C645.1 721 652.1 722.1 654.4 724C656.7 725.9 655 729.2 656.9 731.5C658.8 733.8 662.6 737.3 665.5 737.7C668.4 738.1 672.6 735.5 674.2 734C675.9 732.5 675.2 729.8 675.4 729C675.4 731.3 674.4 738.5 675.4 742.6C676.4 746.7 678.9 750.9 681.6 753.8C684.3 756.7 689.9 759 691.5 760" fill="none" stroke="#000" stroke-width="2.4" stroke-linecap="round" stroke-linejoin="round"/>
<path d="M614.7 737.5C614.6 738.4 614.7 740.6 613.9 743C613.1 745.4 612 750.3 609.7 751.8C607.5 753.3 602 751.8 600.4 751.8C600.4 752.5 601.1 754.3 600.4 756C599.7 757.7 598.3 761.1 596.2 761.9C594.1 762.7 589.9 762 587.8 761C585.7 760 584.3 756.8 583.6 756C583.2 757.3 582.5 761.6 581 764C579.5 766.4 576.5 769.4 574.3 770.3C572.1 771.2 568.9 771.9 567.6 769.5C566.3 767.1 566.9 758.2 566.7 756C565.9 757.3 564.7 761.8 562 764C559.3 766.2 553.7 768.9 550.7 769.5C547.7 770.1 545 770 544 767.8C543 765.5 544.7 758 544.8 756C542 757.2 531.8 762.2 528 763C524.2 763.8 522.4 763 522 761C521.6 759 522.8 754.9 525.5 751C528.2 747.1 535.9 739.8 538 737.5C535 738.8 525.7 743.2 520 745C514.3 746.8 506.8 749.4 503.6 748.4C500.4 747.4 500.4 742.2 501 739C501.6 735.8 502.8 732.2 507 729C511.2 725.8 523.1 721.3 526.3 719.8C523.6 719.7 514.4 719.7 510 719C505.6 718.3 502.6 717.6 500 715.6C497.4 713.6 494.8 710.9 494.3 707.2C493.8 703.6 495.4 698.2 496.8 693.7C498.2 689.2 501.7 682.5 502.7 680.2C501.4 679.5 496.7 677.4 495 676C493.3 674.6 491.7 674 492.6 671.9C493.5 669.8 496.4 666.6 500.2 663.5C504 660.4 512.9 655.1 515.4 653.4C513.4 652.5 505.3 650.3 503.6 648.3C501.9 646.3 502.6 644.1 505.3 641.6C508 639.1 517.2 634.6 519.6 633.2C519.7 631.5 518.9 626.1 520.4 623C521.9 619.9 525.7 616.6 528.8 614.6C531.9 612.6 537.3 611.8 539 611.3C539.4 610.4 541.7 608.5 541.5 606.2C541.3 604 537.4 603.8 538 597.8C538.6 591.8 540.5 578.8 545 570C549.5 561.2 558.2 550.5 565 545C571.8 539.5 581.9 538.6 586 537C590.1 535.4 585.8 534.9 589.5 535.5C593.2 536.1 602.8 538.8 608 540.5C613.2 542.2 618.5 544.8 620.6 545.6C620.5 544.5 618.2 541.3 619.8 538.8C621.3 536.3 627 531.5 629.9 530.4C632.8 529.3 635 530.2 637 532C639 533.8 640.9 539.8 641.7 541.4C641.7 538.9 640.7 530 641.7 526.2C642.7 522.4 645.6 519.3 647.6 518.6C649.6 517.9 651.8 519.8 654 522C656.2 524.2 659.6 530.4 660.7 532.1C662.1 529.6 666.4 521.6 669.2 517C672 512.4 674.7 507.5 677.6 504.3C680.5 501.1 684 498.2 686.8 497.6C689.6 497.1 692.4 499.2 694.4 501C696.4 502.8 697.5 505.6 698.6 508.5C699.7 511.4 700.8 516.9 701.2 518.6C702.8 516.7 707.2 509.7 711 507C714.8 504.3 719.6 502.6 723.7 502.6C727.8 502.6 732.8 504.4 735.5 506.8C738.2 509.2 739 515.3 739.7 517C742.1 516.4 749.6 513.2 754 513.2C758.4 513.2 762.8 514.8 765.8 517C768.8 519.2 771.4 523.4 771.7 526.2C772 529 768.2 532.7 767.5 534C770.3 533.8 779.8 532.1 784.3 532.5C788.8 532.9 792.3 534.8 794.4 536.3C796.5 537.8 797.3 539.8 797 541.4C796.7 543 793.4 544.9 792.7 545.6C794.7 545.2 801.1 542.9 804.5 543.5C807.9 544.1 811.2 546.8 813 549C814.8 551.2 816 554.9 815.5 556.5C815 558.1 810.9 558.3 810 558.7C814.2 558.2 827 553.3 835 556C843 558.7 852 567.9 858 575C864 582.1 870.7 593.8 871 598.6C871.3 603.4 861.8 602.9 860 603.7C862.5 604.6 871.1 606.6 875.3 609C879.5 611.4 883.2 614.8 885.4 618C887.6 621.2 889.1 624.5 888.7 628C888.3 631.5 883.8 637.2 882.8 639C884.3 639.6 889.6 640.4 892 642.5C894.4 644.6 897.5 648.1 897 651.7C896.5 655.3 890.1 662.2 888.7 664.3C891 665.2 898.8 666 902.2 669.5C905.6 673 908.7 681.4 909 685.3C909.3 689.2 906.7 691.2 904 693C901.3 694.8 894.8 695.7 893 696.2C895.4 696.8 903.9 697.6 907.3 700C910.7 702.4 914.1 707.5 913.2 710.5C912.4 713.5 904 716.8 902.2 718C903.9 718.7 910 719.9 912.3 722C914.5 724.1 915.7 728.1 915.7 730.7C915.7 733.3 914 735.5 912.3 737.5C910.6 739.5 906.7 741.7 905.6 742.5C906 744.1 907.7 748.9 908 752C908.3 755.1 908.5 759.8 907.3 761C906 762.2 901.6 759.7 900.5 759.4C899.8 761.1 896.6 765.3 896.3 769.5C896 773.7 899.5 780.7 898.8 784.6C898.1 788.5 895.6 791 892 793C888.4 795 881.2 794.1 877 796.4C872.8 798.6 870.5 802.4 866.8 806.5C863.1 810.6 858.4 818.3 855 820.8C851.6 823.3 849 823.4 846.6 821.7C844.2 820 841.7 812.5 840.7 810.7C840 812 839 815.2 836.5 818.3C834 821.3 829.6 825.9 826 829C822.4 832.1 816.5 835.5 814.6 836.8C813.9 836 811.2 834.6 810.4 831.8C809.6 829 809.7 822 809.6 820C807.9 821.7 804.3 826.9 799.5 830C794.7 833.1 786.1 837.4 781 838.5C775.9 839.6 771.5 838.2 769 836.8C766.5 835.4 765.4 832.2 766 830C766.6 827.8 771.4 824.5 772.5 823.4C770.8 822.8 765.1 822 762.4 820C759.7 818 756.2 814.4 756.5 811.6C756.8 808.8 762.8 804.4 764 803C761.2 803.2 751.6 805.5 747.3 804.5C743 803.5 739.5 798.2 738 797" fill="none" stroke="#000" stroke-width="2.6" stroke-linejoin="round" stroke-linecap="round"/>
</g>
<rect x="108.10000000000001" y="280" width="6.199999999999989" height="165" fill="#d4d539"/>
<rect x="108.10000000000001" y="672" width="6.199999999999989" height="166" fill="#d4d539"/>
<rect x="345.04999999999995" y="398" width="6.2000000000000455" height="324" fill="#d4d539"/>
<rect x="111.2" y="364.79999999999995" width="154.8" height="6.2000000000000455" fill="#d4d539"/>
<rect x="111.2" y="745.9" width="154.8" height="6.2000000000000455" fill="#d4d539"/>
<rect x="348.15" y="563.9" width="85.85000000000002" height="6.2000000000000455" fill="#d4d539"/>
<rect x="1283.9" y="280" width="6.199999999999818" height="165" fill="#0a90b4"/>
<rect x="1283.9" y="672" width="6.199999999999818" height="166" fill="#0a90b4"/>
<rect x="1064.9" y="398" width="6.199999999999818" height="324" fill="#0a90b4"/>
<rect x="1144" y="364.79999999999995" width="143" height="6.2000000000000455" fill="#0a90b4"/>
<rect x="1144" y="745.9" width="143" height="6.2000000000000455" fill="#0a90b4"/>
<rect x="980" y="563.9" width="88" height="6.2000000000000455" fill="#0a90b4"/>
<rect x="30.8" y="224.3" width="158.4" height="57.9" rx="9.0" fill="#fff" stroke="#d4d539" stroke-width="3.6"/>
<text class="lbl" transform="translate(110.0 257.25) scale(0.8 1)" x="0" y="0" text-anchor="middle" textLength="111.2" lengthAdjust="spacing">Great Grandparent</text>
<rect x="1205.3" y="224.3" width="158.4" height="57.9" rx="9.0" fill="#fff" stroke="#0a90b4" stroke-width="3.6"/>
<text class="lbl" transform="translate(1284.5 257.25) scale(0.8 1)" x="0" y="0" text-anchor="middle" textLength="111.2" lengthAdjust="spacing">Great Grandparent</text>
<rect x="30.8" y="443.3" width="158.4" height="57.9" rx="9.0" fill="#fff" stroke="#d4d539" stroke-width="3.6"/>
<text class="lbl" transform="translate(110.0 476.25) scale(0.8 1)" x="0" y="0" text-anchor="middle" textLength="111.2" lengthAdjust="spacing">Great Grandparent</text>
<rect x="1205.3" y="443.3" width="158.4" height="57.9" rx="9.0" fill="#fff" stroke="#0a90b4" stroke-width="3.6"/>
<text class="lbl" transform="translate(1284.5 476.25) scale(0.8 1)" x="0" y="0" text-anchor="middle" textLength="111.2" lengthAdjust="spacing">Great Grandparent</text>
<rect x="30.8" y="616.8" width="158.4" height="57.4" rx="9.0" fill="#fff" stroke="#d4d539" stroke-width="3.6"/>
<text class="lbl" transform="translate(110.0 649.5) scale(0.8 1)" x="0" y="0" text-anchor="middle" textLength="111.2" lengthAdjust="spacing">Great Grandparent</text>
<rect x="1205.3" y="616.8" width="158.4" height="57.4" rx="9.0" fill="#fff" stroke="#0a90b4" stroke-width="3.6"/>
<text class="lbl" transform="translate(1284.5 649.5) scale(0.8 1)" x="0" y="0" text-anchor="middle" textLength="111.2" lengthAdjust="spacing">Great Grandparent</text>
<rect x="30.8" y="835.8" width="158.4" height="57.4" rx="9.0" fill="#fff" stroke="#d4d539" stroke-width="3.6"/>
<text class="lbl" transform="translate(110.0 868.5) scale(0.8 1)" x="0" y="0" text-anchor="middle" textLength="111.2" lengthAdjust="spacing">Great Grandparent</text>
<rect x="1205.3" y="835.8" width="158.4" height="57.4" rx="9.0" fill="#fff" stroke="#0a90b4" stroke-width="3.6"/>
<text class="lbl" transform="translate(1284.5 868.5) scale(0.8 1)" x="0" y="0" text-anchor="middle" textLength="111.2" lengthAdjust="spacing">Great Grandparent</text>
<rect x="265.8" y="342.3" width="158.4" height="57.4" rx="9.0" fill="#fff" stroke="#d4d539" stroke-width="3.6"/>
<text class="lbl" transform="translate(345.0 375.0) scale(0.8 1)" x="0" y="0" text-anchor="middle" textLength="73.2" lengthAdjust="spacing">Grandparent</text>
<rect x="265.8" y="720.5" width="158.4" height="57.4" rx="9.0" fill="#fff" stroke="#d4d539" stroke-width="3.6"/>
<text class="lbl" transform="translate(345.0 753.2) scale(0.8 1)" x="0" y="0" text-anchor="middle" textLength="71.0" lengthAdjust="spacing">grandparent</text>
<rect x="985.8" y="342.3" width="158.4" height="57.4" rx="9.0" fill="#fff" stroke="#0a90b4" stroke-width="3.6"/>
<text class="lbl" transform="translate(1065.0 375.0) scale(0.8 1)" x="0" y="0" text-anchor="middle" textLength="73.2" lengthAdjust="spacing">Grandparent</text>
<rect x="985.8" y="720.5" width="158.4" height="57.4" rx="9.0" fill="#fff" stroke="#0a90b4" stroke-width="3.6"/>
<text class="lbl" transform="translate(1065.0 753.2) scale(0.8 1)" x="0" y="0" text-anchor="middle" textLength="71.0" lengthAdjust="spacing">grandparent</text>
<rect x="432.8" y="538.5" width="158.60000000000005" height="57.69999999999995" rx="9.0" fill="#fff" stroke="#d4d539" stroke-width="3.6"/>
<text class="lbl" transform="translate(512.1 571.35) scale(0.8 1)" x="0" y="0" text-anchor="middle" textLength="48.4" lengthAdjust="spacing">Parent 1</text>
<rect x="821.8" y="538.8" width="158.4" height="57.4" rx="9.0" fill="#fff" stroke="#0a90b4" stroke-width="3.6"/>
<text class="lbl" transform="translate(901.0 571.5) scale(0.8 1)" x="0" y="0" text-anchor="middle" textLength="49.2" lengthAdjust="spacing">Parent 2</text>
<rect x="524.0999999999999" y="928.6999999999999" width="327.1" height="92.50000000000003" rx="17.2" fill="#fff" stroke="#3fa60f" stroke-width="5.6"/>
<text class="lbl" transform="translate(687.65 979.35) scale(0.8 1)" x="0" y="0" text-anchor="middle" textLength="82.1" lengthAdjust="spacing">My Name Here</text>
<path d="M1068.7 131.8C1069.9 132 1073.5 132.6 1075.8 133.2C1078.1 133.8 1080.4 135.4 1082.4 135.4C1084.4 135.4 1086.1 134.1 1087.9 133.2C1089.7 132.3 1091.5 130.5 1093.3 129.9C1095.1 129.3 1097.1 129.2 1098.8 129.4C1100.5 129.6 1102 130 1103.2 131C1104.4 132 1105.4 133.8 1105.9 135.4C1106.5 137.1 1106.8 139.1 1106.5 140.9C1106.2 142.7 1105.4 144.6 1104.3 146.3C1103.2 148 1100.9 149.9 1099.9 151.3C1098.9 152.7 1098.3 153.2 1098.3 154.6C1098.3 156 1099.5 158.2 1099.9 160C1100.4 161.8 1100.8 163.8 1101 165.5C1101.2 167.2 1101 169.2 1101 170C1101 176 1101.2 200 1101.3 206C1101.3 206.8 1101.7 209.1 1101.3 211C1100.9 212.9 1098.9 215.5 1098.8 217.5C1098.7 219.5 1099.6 221.3 1100.5 223C1101.4 224.7 1103.3 225.8 1104.3 227.4C1105.3 229.1 1106.2 230.9 1106.5 232.9C1106.8 234.9 1106.6 237.5 1105.9 239.4C1105.2 241.3 1103.6 243.3 1102.1 244.4C1100.5 245.5 1098.4 246.1 1096.6 246C1094.8 245.9 1092.8 244.7 1091.2 243.8C1089.7 242.9 1088.8 241.3 1087.3 240.5C1085.8 239.7 1084 238.9 1082.4 238.9C1080.8 238.9 1079 239.9 1077.5 240.5C1076 241.1 1074.8 242.3 1073.1 242.7C1071.4 243.1 1068.5 242.7 1067.6 242.7C947.3 242.7 466 242.6 345.7 242.6C345 242.7 342.9 243.5 341.3 243.3C339.7 243.1 337.7 242.2 335.8 241.6C333.9 240.9 331.6 239.4 329.8 239.4C328 239.4 326.6 240.6 324.9 241.6C323.2 242.6 321.2 244.8 319.4 245.5C317.6 246.2 315.7 246.2 313.9 245.5C312.1 244.8 309.6 243.2 308.4 241.6C307.2 239.9 306.8 237.6 306.5 235.6C306.2 233.6 306.1 231.5 306.8 229.6C307.5 227.7 309.3 226 310.6 224.1C311.9 222.2 314.2 220.2 314.5 218C314.8 215.8 312.7 213 312.3 211C311.9 209 312.1 206.8 312 206C312 200 312 176 312 170C311.9 168.8 311.6 164.9 311.7 162.8C311.8 160.7 312.2 159.1 312.8 157.3C313.4 155.5 314.6 153.5 315 151.8C315.4 150.2 315.7 149 315 147.4C314.3 145.8 311.7 144 310.6 142C309.5 140 308.6 137.4 308.4 135.4C308.2 133.4 308.6 131.4 309.5 129.9C310.4 128.4 312.1 127.3 313.9 126.6C315.7 125.9 318.5 125.5 320.5 125.5C322.5 125.5 324.4 125.7 326 126.6C327.6 127.5 328.9 129.5 330.3 131C331.8 132.5 332.9 135 334.7 135.4C336.5 135.8 339.3 133.8 341.3 133.2C343.3 132.6 345.9 132.3 346.8 132.1C467.1 132.1 948.4 131.9 1068.7 131.8Z" fill="#fff"/>
<path d="M346.8 132.1C345.9 132.3 343.3 132.6 341.3 133.2C339.3 133.8 336.5 135.8 334.7 135.4C332.9 135 331.8 132.5 330.3 131C328.9 129.5 327.6 127.5 326 126.6C324.4 125.7 322.5 125.5 320.5 125.5C318.5 125.5 315.7 125.9 313.9 126.6C312.1 127.3 310.4 128.4 309.5 129.9C308.6 131.4 308.2 133.4 308.4 135.4C308.6 137.4 309.5 140 310.6 142C311.7 144 314.3 145.8 315 147.4C315.7 149 315.4 150.2 315 151.8C314.6 153.5 313.4 155.5 312.8 157.3C312.2 159.1 311.8 160.7 311.7 162.8C311.6 164.9 311.9 168.8 312 170" fill="none" stroke="#143d18" stroke-width="3.9" stroke-linecap="round" stroke-linejoin="round"/>
<path d="M1068.7 131.8C1069.9 132 1073.5 132.6 1075.8 133.2C1078.1 133.8 1080.4 135.4 1082.4 135.4C1084.4 135.4 1086.1 134.1 1087.9 133.2C1089.7 132.3 1091.5 130.5 1093.3 129.9C1095.1 129.3 1097.1 129.2 1098.8 129.4C1100.5 129.6 1102 130 1103.2 131C1104.4 132 1105.4 133.8 1105.9 135.4C1106.5 137.1 1106.8 139.1 1106.5 140.9C1106.2 142.7 1105.4 144.6 1104.3 146.3C1103.2 148 1100.9 149.9 1099.9 151.3C1098.9 152.7 1098.3 153.2 1098.3 154.6C1098.3 156 1099.5 158.2 1099.9 160C1100.4 161.8 1100.8 163.8 1101 165.5C1101.2 167.2 1101 169.2 1101 170" fill="none" stroke="#143d18" stroke-width="3.9" stroke-linecap="round" stroke-linejoin="round"/>
<path d="M1101.3 206C1101.3 206.8 1101.7 209.1 1101.3 211C1100.9 212.9 1098.9 215.5 1098.8 217.5C1098.7 219.5 1099.6 221.3 1100.5 223C1101.4 224.7 1103.3 225.8 1104.3 227.4C1105.3 229.1 1106.2 230.9 1106.5 232.9C1106.8 234.9 1106.6 237.5 1105.9 239.4C1105.2 241.3 1103.6 243.3 1102.1 244.4C1100.5 245.5 1098.4 246.1 1096.6 246C1094.8 245.9 1092.8 244.7 1091.2 243.8C1089.7 242.9 1088.8 241.3 1087.3 240.5C1085.8 239.7 1084 238.9 1082.4 238.9C1080.8 238.9 1079 239.9 1077.5 240.5C1076 241.1 1074.8 242.3 1073.1 242.7C1071.4 243.1 1068.5 242.7 1067.6 242.7" fill="none" stroke="#143d18" stroke-width="3.9" stroke-linecap="round" stroke-linejoin="round"/>
<path d="M345.7 242.6C345 242.7 342.9 243.5 341.3 243.3C339.7 243.1 337.7 242.2 335.8 241.6C333.9 240.9 331.6 239.4 329.8 239.4C328 239.4 326.6 240.6 324.9 241.6C323.2 242.6 321.2 244.8 319.4 245.5C317.6 246.2 315.7 246.2 313.9 245.5C312.1 244.8 309.6 243.2 308.4 241.6C307.2 239.9 306.8 237.6 306.5 235.6C306.2 233.6 306.1 231.5 306.8 229.6C307.5 227.7 309.3 226 310.6 224.1C311.9 222.2 314.2 220.2 314.5 218C314.8 215.8 312.7 213 312.3 211C311.9 209 312.1 206.8 312 206" fill="none" stroke="#143d18" stroke-width="3.9" stroke-linecap="round" stroke-linejoin="round"/>
<path d="M346.8 132.1 H1068.7" fill="none" stroke="#143d18" stroke-width="3.9" stroke-linecap="round" stroke-linejoin="round"/>
<path d="M345.7 242.6 H1067.6" fill="none" stroke="#143d18" stroke-width="3.9" stroke-linecap="round" stroke-linejoin="round"/>
<path d="M312 170 V206" fill="none" stroke="#143d18" stroke-width="3.9" stroke-linecap="round" stroke-linejoin="round"/>
<path d="M1101.1 170 V206" fill="none" stroke="#143d18" stroke-width="3.9" stroke-linecap="round" stroke-linejoin="round"/>
<path transform="translate(344 132) rotate(-68)" d="M0 0 C2.9 -3.2 9.5 -3.2 14.7 0 C10.3 2.4 4.4 2.9 0 0Z" fill="#33c23f" stroke="#143d18" stroke-width="0.9" stroke-linejoin="round"/>
<path transform="translate(324.5 125.5) rotate(-64.2)" d="M0 0 C1.9 -2.8 6.3 -2.8 9.7 0 C6.8 2.1 2.9 2.5 0 0Z" fill="#33c23f" stroke="#143d18" stroke-width="0.9" stroke-linejoin="round"/>
<path transform="translate(308.5 131.5) rotate(-153.4)" d="M0 0 C1.6 -3 5.1 -3 7.8 0 C5.5 2.2 2.3 2.7 0 0Z" fill="#33c23f" stroke="#143d18" stroke-width="0.9" stroke-linejoin="round"/>
<path transform="translate(318 129.5) rotate(18.1)" d="M0 0 C1.2 -2.2 3.8 -2.2 5.8 0 C4.1 1.7 1.7 2 0 0Z" fill="#33c23f" stroke="#143d18" stroke-width="0.9" stroke-linejoin="round"/>
<path transform="translate(305.5 146) rotate(152.7)" d="M0 0 C1.4 -2.9 4.7 -2.9 7.2 0 C5 2.2 2.2 2.6 0 0Z" fill="#33c23f" stroke="#143d18" stroke-width="0.9" stroke-linejoin="round"/>
<path transform="translate(308.5 144) rotate(105.6)" d="M0 0 C2.1 -2.9 6.7 -2.9 10.4 0 C7.3 2.2 3.1 2.6 0 0Z" fill="#33c23f" stroke="#143d18" stroke-width="0.9" stroke-linejoin="round"/>
<path transform="translate(310 161) rotate(164)" d="M0 0 C1.7 -2.8 5.4 -2.8 8.3 0 C5.8 2.1 2.5 2.5 0 0Z" fill="#33c23f" stroke="#143d18" stroke-width="0.9" stroke-linejoin="round"/>
<path transform="translate(313.5 164) rotate(38.7)" d="M0 0 C1.5 -2.2 5 -2.2 7.7 0 C5.4 1.7 2.3 2 0 0Z" fill="#33c23f" stroke="#143d18" stroke-width="0.9" stroke-linejoin="round"/>
<path transform="translate(1069.2 131) rotate(-122.5)" d="M0 0 C1.8 -3 5.9 -3 9.1 0 C6.4 2.2 2.7 2.7 0 0Z" fill="#33c23f" stroke="#143d18" stroke-width="0.9" stroke-linejoin="round"/>
<path transform="translate(1092.5 127.5) rotate(-107.4)" d="M0 0 C2.1 -2.8 6.9 -2.8 10.7 0 C7.5 2.1 3.2 2.5 0 0Z" fill="#33c23f" stroke="#143d18" stroke-width="0.9" stroke-linejoin="round"/>
<path transform="translate(1093 127.8) rotate(-152.4)" d="M0 0 C2.1 -3 6.7 -3 10.4 0 C7.3 2.2 3.1 2.7 0 0Z" fill="#33c23f" stroke="#143d18" stroke-width="0.9" stroke-linejoin="round"/>
<path transform="translate(1104.5 128.8) rotate(-38.4)" d="M0 0 C1.5 -2.8 4.8 -2.8 7.4 0 C5.2 2.1 2.2 2.5 0 0Z" fill="#33c23f" stroke="#143d18" stroke-width="0.9" stroke-linejoin="round"/>
<path transform="translate(1107.5 142) rotate(37.9)" d="M0 0 C2 -3 6.3 -3 9.8 0 C6.8 2.2 2.9 2.7 0 0Z" fill="#33c23f" stroke="#143d18" stroke-width="0.9" stroke-linejoin="round"/>
<path transform="translate(1099 160) rotate(132.3)" d="M0 0 C1.5 -2.8 4.8 -2.8 7.4 0 C5.2 2.1 2.2 2.5 0 0Z" fill="#33c23f" stroke="#143d18" stroke-width="0.9" stroke-linejoin="round"/>
<path transform="translate(1103 167) rotate(12.5)" d="M0 0 C1.8 -2.8 6 -2.8 9.2 0 C6.5 2.1 2.8 2.5 0 0Z" fill="#33c23f" stroke="#143d18" stroke-width="0.9" stroke-linejoin="round"/>
<path transform="translate(1103.2 212) rotate(-21.8)" d="M0 0 C2.5 -3.5 8.1 -3.5 12.4 0 C8.7 2.6 3.7 3.1 0 0Z" fill="#33c23f" stroke="#143d18" stroke-width="0.9" stroke-linejoin="round"/>
<path transform="translate(1100 210.5) rotate(-145.8)" d="M0 0 C1.9 -2.9 6.1 -2.9 9.4 0 C6.6 2.2 2.8 2.6 0 0Z" fill="#33c23f" stroke="#143d18" stroke-width="0.9" stroke-linejoin="round"/>
<path transform="translate(1102.5 227.5) rotate(117.9)" d="M0 0 C1.6 -2.5 5.1 -2.5 7.9 0 C5.5 1.9 2.4 2.2 0 0Z" fill="#33c23f" stroke="#143d18" stroke-width="0.9" stroke-linejoin="round"/>
<path transform="translate(1109.2 232.3) rotate(-24.9)" d="M0 0 C1.8 -3 5.9 -3 9 0 C6.3 2.2 2.7 2.7 0 0Z" fill="#33c23f" stroke="#143d18" stroke-width="0.9" stroke-linejoin="round"/>
<path transform="translate(1107.6 243.3) rotate(29.4)" d="M0 0 C2 -3 6.5 -3 10 0 C7 2.2 3 2.7 0 0Z" fill="#33c23f" stroke="#143d18" stroke-width="0.9" stroke-linejoin="round"/>
<path transform="translate(1099.4 248.2) rotate(52.2)" d="M0 0 C1.2 -2.5 4 -2.5 6.2 0 C4.3 1.9 1.9 2.2 0 0Z" fill="#33c23f" stroke="#143d18" stroke-width="0.9" stroke-linejoin="round"/>
<path transform="translate(1088 245.5) rotate(152.7)" d="M0 0 C1.4 -2.5 4.5 -2.5 7 0 C4.9 1.9 2.1 2.2 0 0Z" fill="#33c23f" stroke="#143d18" stroke-width="0.9" stroke-linejoin="round"/>
<path transform="translate(1071 241.6) rotate(-122.5)" d="M0 0 C1.6 -2.8 5.1 -2.8 7.8 0 C5.5 2.1 2.3 2.5 0 0Z" fill="#33c23f" stroke="#143d18" stroke-width="0.9" stroke-linejoin="round"/>
<path transform="translate(1075.3 243.8) rotate(101.9)" d="M0 0 C2.1 -3 6.9 -3 10.6 0 C7.4 2.2 3.2 2.7 0 0Z" fill="#33c23f" stroke="#143d18" stroke-width="0.9" stroke-linejoin="round"/>
<path transform="translate(312.8 209.5) rotate(-16.9)" d="M0 0 C1.4 -2.4 4.7 -2.4 7.2 0 C5 1.8 2.2 2.1 0 0Z" fill="#33c23f" stroke="#143d18" stroke-width="0.9" stroke-linejoin="round"/>
<path transform="translate(310.6 213.7) rotate(175.8)" d="M0 0 C2.2 -3 7.1 -3 10.9 0 C7.7 2.2 3.3 2.7 0 0Z" fill="#33c23f" stroke="#143d18" stroke-width="0.9" stroke-linejoin="round"/>
<path transform="translate(305.2 231) rotate(-154)" d="M0 0 C1.8 -3 5.8 -3 8.9 0 C6.2 2.2 2.7 2.7 0 0Z" fill="#33c23f" stroke="#143d18" stroke-width="0.9" stroke-linejoin="round"/>
<path transform="translate(307.5 246) rotate(132.7)" d="M0 0 C1.4 -3 4.6 -3 7.1 0 C5 2.2 2.1 2.7 0 0Z" fill="#33c23f" stroke="#143d18" stroke-width="0.9" stroke-linejoin="round"/>
<path transform="translate(320 247.5) rotate(23.9)" d="M0 0 C2.1 -3 6.8 -3 10.4 0 C7.3 2.2 3.1 2.7 0 0Z" fill="#33c23f" stroke="#143d18" stroke-width="0.9" stroke-linejoin="round"/>
<path transform="translate(320.5 250) rotate(67.1)" d="M0 0 C1.7 -2.8 5.5 -2.8 8.5 0 C5.9 2.1 2.5 2.5 0 0Z" fill="#33c23f" stroke="#143d18" stroke-width="0.9" stroke-linejoin="round"/>
<path transform="translate(341.3 242.2) rotate(-54.2)" d="M0 0 C1.8 -2.8 5.8 -2.8 8.9 0 C6.2 2.1 2.7 2.5 0 0Z" fill="#33c23f" stroke="#143d18" stroke-width="0.9" stroke-linejoin="round"/>
<path transform="translate(340.2 244.9) rotate(69)" d="M0 0 C2.1 -3 6.9 -3 10.6 0 C7.4 2.2 3.2 2.7 0 0Z" fill="#33c23f" stroke="#143d18" stroke-width="0.9" stroke-linejoin="round"/>
<path d="M346.8 132.1C345.9 132.3 343.3 132.6 341.3 133.2C339.3 133.8 336.5 135.8 334.7 135.4C332.9 135 331.8 132.5 330.3 131C328.9 129.5 327.6 127.5 326 126.6C324.4 125.7 322.5 125.5 320.5 125.5C318.5 125.5 315.7 125.9 313.9 126.6C312.1 127.3 310.4 128.4 309.5 129.9C308.6 131.4 308.2 133.4 308.4 135.4C308.6 137.4 309.5 140 310.6 142C311.7 144 314.3 145.8 315 147.4C315.7 149 315.4 150.2 315 151.8C314.6 153.5 313.4 155.5 312.8 157.3C312.2 159.1 311.8 160.7 311.7 162.8C311.6 164.9 311.9 168.8 312 170" fill="none" stroke="#33c23f" stroke-width="2.1" stroke-linecap="round" stroke-linejoin="round"/>
<path d="M1068.7 131.8C1069.9 132 1073.5 132.6 1075.8 133.2C1078.1 133.8 1080.4 135.4 1082.4 135.4C1084.4 135.4 1086.1 134.1 1087.9 133.2C1089.7 132.3 1091.5 130.5 1093.3 129.9C1095.1 129.3 1097.1 129.2 1098.8 129.4C1100.5 129.6 1102 130 1103.2 131C1104.4 132 1105.4 133.8 1105.9 135.4C1106.5 137.1 1106.8 139.1 1106.5 140.9C1106.2 142.7 1105.4 144.6 1104.3 146.3C1103.2 148 1100.9 149.9 1099.9 151.3C1098.9 152.7 1098.3 153.2 1098.3 154.6C1098.3 156 1099.5 158.2 1099.9 160C1100.4 161.8 1100.8 163.8 1101 165.5C1101.2 167.2 1101 169.2 1101 170" fill="none" stroke="#33c23f" stroke-width="2.1" stroke-linecap="round" stroke-linejoin="round"/>
<path d="M1101.3 206C1101.3 206.8 1101.7 209.1 1101.3 211C1100.9 212.9 1098.9 215.5 1098.8 217.5C1098.7 219.5 1099.6 221.3 1100.5 223C1101.4 224.7 1103.3 225.8 1104.3 227.4C1105.3 229.1 1106.2 230.9 1106.5 232.9C1106.8 234.9 1106.6 237.5 1105.9 239.4C1105.2 241.3 1103.6 243.3 1102.1 244.4C1100.5 245.5 1098.4 246.1 1096.6 246C1094.8 245.9 1092.8 244.7 1091.2 243.8C1089.7 242.9 1088.8 241.3 1087.3 240.5C1085.8 239.7 1084 238.9 1082.4 238.9C1080.8 238.9 1079 239.9 1077.5 240.5C1076 241.1 1074.8 242.3 1073.1 242.7C1071.4 243.1 1068.5 242.7 1067.6 242.7" fill="none" stroke="#33c23f" stroke-width="2.1" stroke-linecap="round" stroke-linejoin="round"/>
<path d="M345.7 242.6C345 242.7 342.9 243.5 341.3 243.3C339.7 243.1 337.7 242.2 335.8 241.6C333.9 240.9 331.6 239.4 329.8 239.4C328 239.4 326.6 240.6 324.9 241.6C323.2 242.6 321.2 244.8 319.4 245.5C317.6 246.2 315.7 246.2 313.9 245.5C312.1 244.8 309.6 243.2 308.4 241.6C307.2 239.9 306.8 237.6 306.5 235.6C306.2 233.6 306.1 231.5 306.8 229.6C307.5 227.7 309.3 226 310.6 224.1C311.9 222.2 314.2 220.2 314.5 218C314.8 215.8 312.7 213 312.3 211C311.9 209 312.1 206.8 312 206" fill="none" stroke="#33c23f" stroke-width="2.1" stroke-linecap="round" stroke-linejoin="round"/>
<path d="M346.8 132.1 H1068.7" fill="none" stroke="#33c23f" stroke-width="2.1" stroke-linecap="round" stroke-linejoin="round"/>
<path d="M345.7 242.6 H1067.6" fill="none" stroke="#33c23f" stroke-width="2.1" stroke-linecap="round" stroke-linejoin="round"/>
<path d="M312 170 V206" fill="none" stroke="#33c23f" stroke-width="2.1" stroke-linecap="round" stroke-linejoin="round"/>
<path d="M1101.1 170 V206" fill="none" stroke="#33c23f" stroke-width="2.1" stroke-linecap="round" stroke-linejoin="round"/>
<ellipse cx="319.9" cy="120" rx="5.2" ry="4.9" fill="#de7a76" stroke="#3d1414" stroke-width="0.9"/>
<path d="M317.2 120.5 A2.7 2.5 0 1 1 322.3 121.2 M318.7 120.7 A1.4 1.4 0 1 0 320.6 119 M316.5 122.2 Q319.9 124.7 323.3 122" fill="none" stroke="#3d1414" stroke-width="1" stroke-linecap="round"/>
<ellipse cx="314.2" cy="132.6" rx="4.1" ry="4.1" fill="#de7a76" stroke="#3d1414" stroke-width="0.9"/>
<path d="M311.9 133 A2.3 2 0 1 1 316.2 133.6 M313.2 133.2 A1.1 1.1 0 1 0 314.8 131.8 M311.3 134.4 Q314.2 136.5 317.1 134.2" fill="none" stroke="#3d1414" stroke-width="1" stroke-linecap="round"/>
<ellipse cx="303.8" cy="139.5" rx="4.9" ry="6" fill="#de7a76" stroke="#3d1414" stroke-width="0.9"/>
<path d="M301.1 140 A2.7 2.5 0 1 1 306.2 140.7 M302.6 140.2 A1.4 1.4 0 1 0 304.5 138.5 M300.4 141.7 Q303.8 144.2 307.2 141.5" fill="none" stroke="#3d1414" stroke-width="1" stroke-linecap="round"/>
<ellipse cx="301" cy="236.7" rx="4.8" ry="5" fill="#de7a76" stroke="#3d1414" stroke-width="0.9"/>
<path d="M298.4 237.2 A2.6 2.4 0 1 1 303.4 237.9 M299.8 237.4 A1.3 1.3 0 1 0 301.7 235.7 M297.6 238.9 Q301 241.3 304.4 238.6" fill="none" stroke="#3d1414" stroke-width="1" stroke-linecap="round"/>
<ellipse cx="314.2" cy="251" rx="6" ry="5" fill="#de7a76" stroke="#3d1414" stroke-width="0.9"/>
<path d="M311.4 251.5 A2.8 2.5 0 1 1 316.7 252.2 M312.9 251.8 A1.4 1.4 0 1 0 314.9 250 M310.7 253.2 Q314.2 255.8 317.7 253" fill="none" stroke="#3d1414" stroke-width="1" stroke-linecap="round"/>
<ellipse cx="1098.8" cy="124.2" rx="5.8" ry="4.9" fill="#de7a76" stroke="#3d1414" stroke-width="0.9"/>
<path d="M1096.1 124.7 A2.7 2.5 0 1 1 1101.2 125.4 M1097.6 124.9 A1.4 1.4 0 1 0 1099.5 123.2 M1095.4 126.4 Q1098.8 128.9 1102.2 126.2" fill="none" stroke="#3d1414" stroke-width="1" stroke-linecap="round"/>
<ellipse cx="1112" cy="138.1" rx="4.9" ry="5.5" fill="#de7a76" stroke="#3d1414" stroke-width="0.9"/>
<path d="M1109.3 138.6 A2.7 2.5 0 1 1 1114.5 139.3 M1110.8 138.8 A1.4 1.4 0 1 0 1112.7 137.1 M1108.6 140.3 Q1112 142.8 1115.4 140.1" fill="none" stroke="#3d1414" stroke-width="1" stroke-linecap="round"/>
<ellipse cx="1112.2" cy="238.3" rx="5.2" ry="5.2" fill="#de7a76" stroke="#3d1414" stroke-width="0.9"/>
<path d="M1109.3 238.8 A2.9 2.6 0 1 1 1114.8 239.6 M1110.9 239.1 A1.5 1.5 0 1 0 1113 237.3 M1108.6 240.6 Q1112.2 243.2 1115.8 240.4" fill="none" stroke="#3d1414" stroke-width="1" stroke-linecap="round"/>
<ellipse cx="1092.5" cy="250.7" rx="6" ry="4.9" fill="#de7a76" stroke="#3d1414" stroke-width="0.9"/>
<path d="M1089.8 251.2 A2.7 2.5 0 1 1 1095 251.9 M1091.3 251.4 A1.4 1.4 0 1 0 1093.2 249.7 M1089.1 252.9 Q1092.5 255.4 1095.9 252.7" fill="none" stroke="#3d1414" stroke-width="1" stroke-linecap="round"/>
<text class="ser" x="417" y="200" font-size="45.5" fill="#23252e" stroke="#23252e" stroke-width="0.6" textLength="586" lengthAdjust="spacing">Naslov obiteljskog stabla ovdje</text>
<path d="M421.5 171.2 C417 167.5 410 169 408.8 176 C408 182.5 413.5 186 416.8 181.8" fill="none" stroke="#23252e" stroke-width="2.8" stroke-linecap="round"/>
<text x="41.5" y="58.8" font-size="14.3" font-weight="bold" fill="#111" textLength="44.5" lengthAdjust="spacingAndGlyphs">Name:</text>
<rect x="91" y="58.6" width="385" height="2.2" fill="#2a2a2a"/>
<text x="486.5" y="58.8" font-size="14.3" font-weight="bold" fill="#111" textLength="36" lengthAdjust="spacingAndGlyphs">Date:</text>
<rect x="525.4" y="58.6" width="128" height="2.2" fill="#2a2a2a"/>
<text transform="translate(27.4 1078.6) scale(0.86 1)" x="0" y="0" font-size="12.8" font-weight="bold" fill="#111" textLength="154.2" lengthAdjust="spacing">www.storyboardthat.com</text>
<text x="11" y="1118.6" font-size="15.4" fill="#111" stroke="#111" stroke-width="0.95" textLength="250" lengthAdjust="spacingAndGlyphs">Create your own at Storyboard That</text>
<path d="M12 1095 V12 H1413" fill="none" stroke="#777" stroke-width="2"/>
<path d="M1412.5 12 V1095" fill="none" stroke="#8a8a8a" stroke-width="1"/>
<path d="M1231 1057 H1250 Q1253 1057 1253 1060 V1071 Q1253 1074.5 1250 1074.5 H1238 L1232 1080.5 L1233.5 1074.5 H1231 Q1228 1074.5 1228 1071 V1060 Q1228 1057 1231 1057Z" fill="#000"/>
<path d="M1242 1061.8 H1256 Q1259 1061.8 1259 1064.8 V1073.8 Q1259 1076.8 1256 1076.8 H1255 L1256 1080 L1251 1076.8 H1242 Q1239 1076.8 1239 1073.8 V1064.8 Q1239 1061.8 1242 1061.8Z" fill="#9a9a9a"/>
<text x="1263" y="1073.4" font-size="17.3" fill="#000" textLength="93" lengthAdjust="spacingAndGlyphs">Storyboard</text>
<text x="1357.5" y="1073.4" font-size="17.3" fill="#9b9b9e" textLength="37.5" lengthAdjust="spacingAndGlyphs">That</text>
</svg>
</body></html>
